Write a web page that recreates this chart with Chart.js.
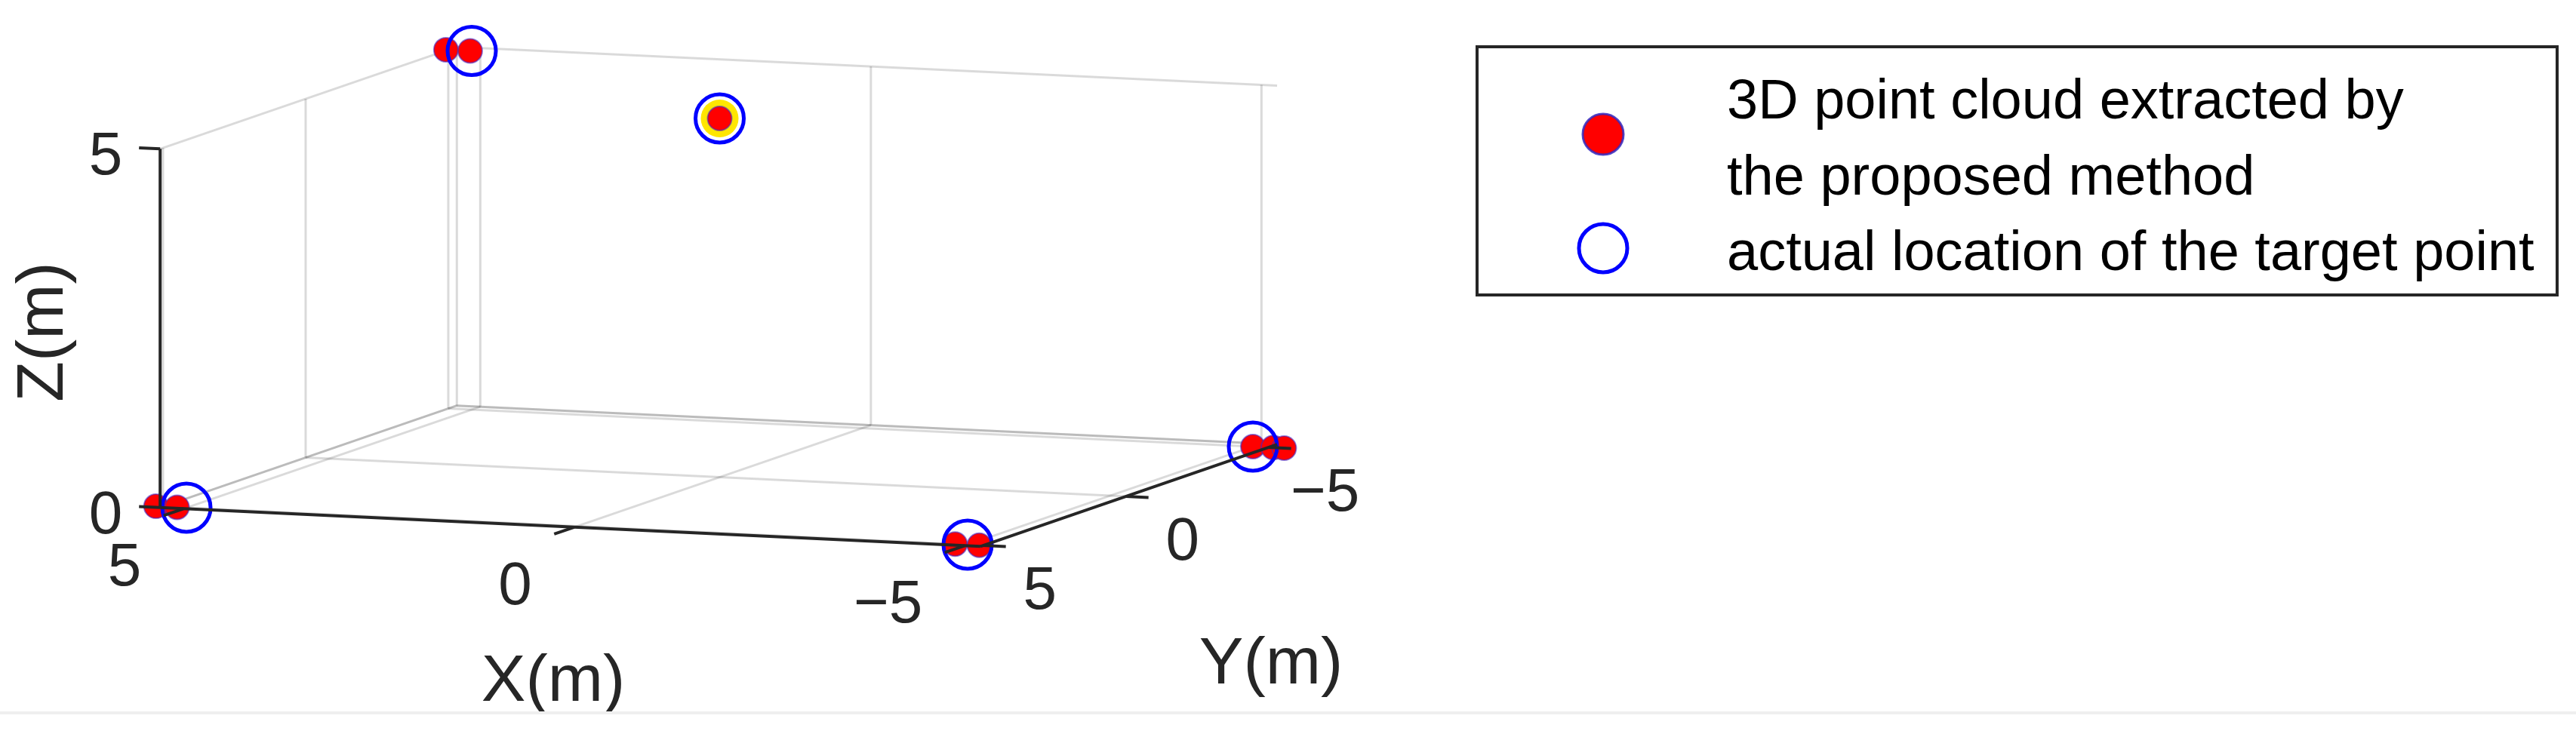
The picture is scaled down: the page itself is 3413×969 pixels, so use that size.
<!DOCTYPE html>
<html>
<head>
<meta charset="utf-8">
<script src="https://cdn.jsdelivr.net/npm/chart.js@4.4.0/dist/chart.umd.min.js"></script>
<style>
  html, body { margin: 0; padding: 0; background: #fff; }
  #wrap { width: 3413px; height: 969px; }
</style>
</head>
<body>
<div id="wrap"><canvas id="myChart" width="3413" height="969"></canvas></div>
<script>
// axis limits and ticks (metres)
const xLim = [-5.2, 5.3];
const yLim = [-5.3, 5.1];
const zLim = [0, 5];
const xTicks = [-5, 0, 5];
const yTicks = [-5, 0, 5];
const zTicks = [0, 5];
const xTickLabels = ['−5', '0', '5'];
const yTickLabels = ['−5', '0', '5'];
const zTickLabels = ['0', '5'];

// 3D point cloud extracted by the proposed method
const extractedX = [5.39, 5.12, -4.84, -5.15, -5.0, -5.26, -5.4, 5.33, 5.02, 0];
const extractedY = [5, 5, 5, 5, -5, -5, -5, -5, -5, 0];
const extractedZ = [0, 0, 0, 0, 0, 0, 0, 5, 5, 5];

// actual location of the target points
const actualX = [5, -5, -5, 5, 0];
const actualY = [5, 5, -5, -5, 0];
const actualZ = [0, 0, 0, 5, 5];

// point whose marker shows a yellow rim
const rimX = [0];
const rimY = [0];
const rimZ = [5];

const legendLines = [
    ['3D point cloud extracted by', 'the proposed method'],
    ['actual location of the target point']
];

// view: screen offset of the origin and screen vectors of one unit along x, y, z
const view = {
    ox: 953.5, oy: 632.5,
    ex: [-103.5, -4.9],
    ey: [-37.8, 13.0],
    ez: [0, -95.1]
};

function project(x, y, z) {
    return {
        x: view.ox + x * view.ex[0] + y * view.ey[0] + z * view.ez[0],
        y: view.oy + x * view.ex[1] + y * view.ey[1] + z * view.ez[1]
    };
}

function toPoints(xs, ys, zs) {
    return xs.map((x, i) => project(x, ys[i], zs[i]));
}

function segment(a, b, color, width, order) {
    return {
        type: 'scatter',
        data: [project(a[0], a[1], a[2]), project(b[0], b[1], b[2])],
        showLine: true,
        pointRadius: 0,
        borderColor: color,
        borderWidth: width,
        order: order
    };
}

function tickSegment(a, dir, len, color) {
    const p = project(a[0], a[1], a[2]);
    const q = project(a[0] + dir[0], a[1] + dir[1], a[2] + dir[2]);
    const dx = q.x - p.x, dy = q.y - p.y;
    const n = Math.hypot(dx, dy);
    return {
        type: 'scatter',
        data: [p, { x: p.x + dx / n * len, y: p.y + dy / n * len }],
        showLine: true,
        pointRadius: 0,
        borderColor: color,
        borderWidth: 4,
        order: 0
    };
}

function buildGrid() {
    const c = 'rgba(38,38,38,0.17)';
    const w = 3;
    const out = [];
    const [x0, x1] = xLim, [y0, y1] = yLim, [z0, z1] = zLim;
    // floor
    xTicks.forEach(x => out.push(segment([x, y0, z0], [x, y1, z0], c, w, 6)));
    yTicks.forEach(y => out.push(segment([x0, y, z0], [x1, y, z0], c, w, 6)));
    out.push(segment([x0, y0, z0], [x1, y0, z0], c, w, 6));
    out.push(segment([x1, y0, z0], [x1, y1, z0], c, w, 6));
    // back wall
    xTicks.forEach(x => out.push(segment([x, y0, z0], [x, y0, z1], c, w, 6)));
    out.push(segment([x1, y0, z0], [x1, y0, z1], c, w, 6));
    zTicks.forEach(z => out.push(segment([x0, y0, z], [x1, y0, z], c, w, 6)));
    // left wall
    yTicks.forEach(y => out.push(segment([x1, y, z0], [x1, y, z1], c, w, 6)));
    zTicks.forEach(z => out.push(segment([x1, y0, z], [x1, y1, z], c, w, 6)));
    return out;
}

function buildAxes() {
    const c = '#262626';
    const out = [];
    const [x0, x1] = xLim, [y0, y1] = yLim, [z0, z1] = zLim;
    out.push(segment([x1, y1, z0], [x1, y1, z1], c, 4, 0));
    out.push(segment([x1, y1, z0], [x0, y1, z0], c, 4, 0));
    out.push(segment([x0, y1, z0], [x0, y0, z0], c, 4, 0));
    zTicks.forEach(z => out.push(tickSegment([x1, y1, z], [1, 0, 0], 28, c)));
    xTicks.forEach(x => out.push(tickSegment([x, y1, z0], [0, 1, 0], 28, c)));
    yTicks.forEach(y => out.push(tickSegment([x0, y, z0], [-1, 0, 0], 30, c)));
    return out;
}

const textPlugin = {
    id: 'axisText',
    afterDraw(chart) {
        const ctx = chart.ctx;
        const [x0, x1] = xLim, [y0, y1] = yLim;
        ctx.save();
        ctx.fillStyle = '#262626';
        ctx.textBaseline = 'alphabetic';
        ctx.font = '80px "Liberation Sans", Arial, sans-serif';

        ctx.textAlign = 'right';
        zTicks.forEach((z, i) => {
            const p = project(x1, y1, z);
            ctx.fillText(zTickLabels[i], p.x - 50, p.y + 34);
        });
        xTicks.forEach((x, i) => {
            const p = project(x, y1, 0);
            ctx.fillText(xTickLabels[i], p.x - 56, p.y + 102);
        });
        ctx.textAlign = 'center';
        yTicks.forEach((y, i) => {
            const p = project(x0, y, 0);
            ctx.fillText(yTickLabels[i], p.x + 75, p.y + 84);
        });

        // axis titles
        ctx.font = '88px "Liberation Sans", Arial, sans-serif';
        ctx.fillText('X(m)', 733, 929);
        ctx.fillText('Y(m)', 1684, 906);
        ctx.save();
        ctx.translate(83, 440);
        ctx.rotate(-Math.PI / 2);
        ctx.fillText('Z(m)', 0, 0);
        ctx.restore();

        // legend
        ctx.lineWidth = 4;
        ctx.strokeStyle = '#262626';
        ctx.fillStyle = '#ffffff';
        ctx.fillRect(1957, 62, 1431, 329);
        ctx.strokeRect(1957, 62, 1431, 329);

        ctx.beginPath();
        ctx.arc(2124, 178, 27, 0, Math.PI * 2);
        ctx.fillStyle = '#ff0000';
        ctx.fill();
        ctx.lineWidth = 3;
        ctx.strokeStyle = 'rgba(50,40,190,0.85)';
        ctx.stroke();

        ctx.beginPath();
        ctx.arc(2124, 329, 32, 0, Math.PI * 2);
        ctx.lineWidth = 5;
        ctx.strokeStyle = '#0000ff';
        ctx.stroke();

        ctx.fillStyle = '#000000';
        ctx.textAlign = 'left';
        ctx.font = '74px "Liberation Sans", Arial, sans-serif';
        ctx.fillText(legendLines[0][0], 2288, 157);
        ctx.fillText(legendLines[0][1], 2288, 258);
        ctx.fillText(legendLines[1][0], 2288, 358);

        // figure bottom edge
        ctx.fillStyle = '#efefef';
        ctx.fillRect(0, 943, 3413, 4);
        ctx.restore();
    }
};

const datasets = [
    ...buildGrid(),
    ...buildAxes(),
    {
        label: 'actual location of the target point',
        data: toPoints(actualX, actualY, actualZ),
        pointRadius: 32,
        pointBorderWidth: 5,
        borderColor: '#0000ff',
        backgroundColor: 'rgba(0,0,0,0)',
        order: 1
    },
    {
        label: '3D point cloud extracted by the proposed method',
        data: toPoints(extractedX, extractedY, extractedZ),
        pointRadius: 16,
        pointBorderWidth: 2,
        borderColor: 'rgba(60,40,200,0.55)',
        backgroundColor: '#ff0000',
        order: 2
    },
    {
        label: 'rim',
        data: toPoints(rimX, rimY, rimZ),
        pointRadius: 25,
        pointBorderWidth: 0,
        borderColor: 'rgba(0,0,0,0)',
        backgroundColor: '#ffe600',
        order: 3
    }
];

const myChart = new Chart(document.getElementById('myChart'), {
    type: 'scatter',
    data: { datasets: datasets },
    options: {
        responsive: false,
        devicePixelRatio: 1,
        animation: false,
        events: [],
        layout: { padding: 0, autoPadding: false },
        plugins: { legend: { display: false }, tooltip: { enabled: false } },
        scales: {
            x: { type: 'linear', min: 0, max: 3413, display: false },
            y: { type: 'linear', min: 0, max: 969, reverse: true, display: false }
        }
    },
    plugins: [textPlugin]
});
</script>
</body>
</html>
